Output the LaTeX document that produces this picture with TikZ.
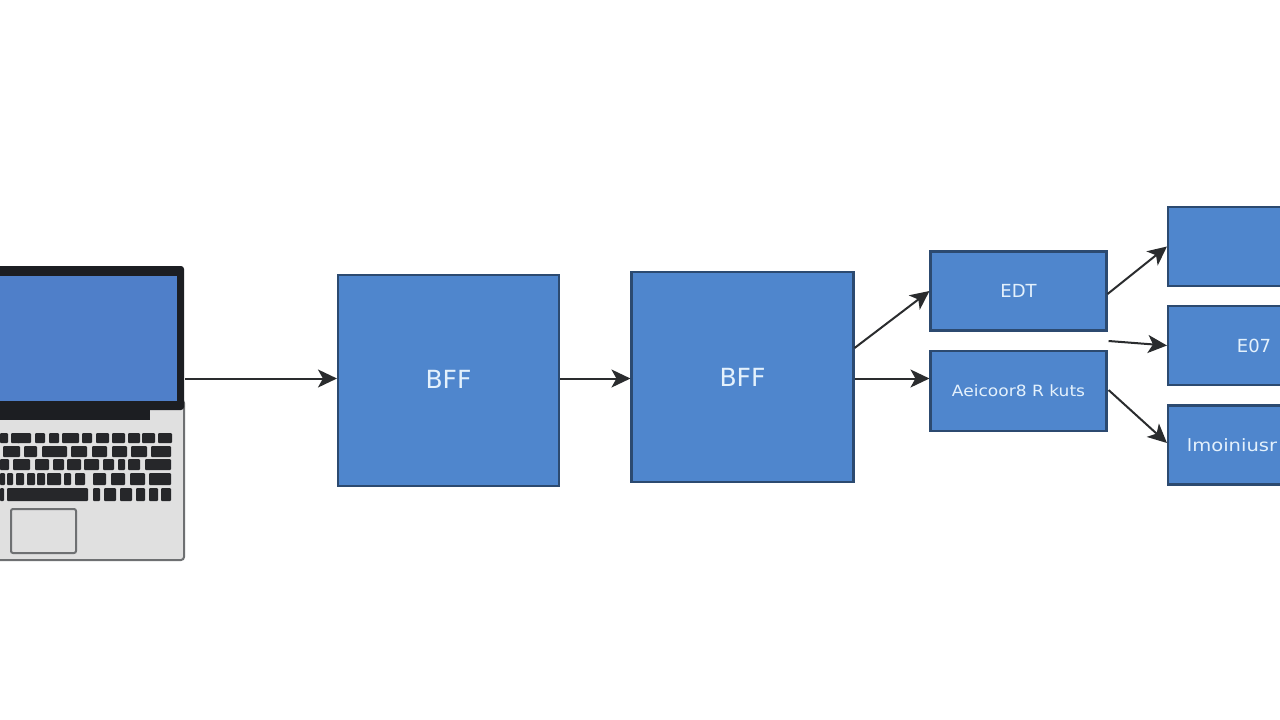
\documentclass[tikz,border=0pt]{standalone}
\usepackage{fontspec}
\setmainfont{DejaVu Sans}
\usetikzlibrary{arrows.meta}
\definecolor{boxfill}{HTML}{4F86CD}
\definecolor{boxline}{HTML}{2C4A70}
\definecolor{screenblue}{HTML}{4F7FC9}
\definecolor{labeltext}{HTML}{E4F1FC}
\definecolor{lidblack}{HTML}{1C1E22}
\definecolor{bodysilver}{HTML}{E0E0E0}
\definecolor{bodyline}{HTML}{6E7072}
\definecolor{keyblack}{HTML}{26272A}
\definecolor{arrowline}{HTML}{2A2C2E}
\tikzset{
  bluebox/.style={draw=boxline,line width=2.1pt,fill=boxfill,text=labeltext,inner sep=0pt,align=center},
  flow/.style={draw=arrowline,line width=2pt,-{Stealth[length=19pt,width=18pt,inset=5pt]}},
  keycap/.style={fill=keyblack,draw=none,rounded corners=1pt},
}
\begin{document}
\begin{tikzpicture}[x=1pt,y=-1pt]
\useasboundingbox (0,0) rectangle (1280,720);
\clip (0,0) rectangle (1280,720);
\fill[white] (0,0) rectangle (1280,720);
% laptop
\draw[draw=bodyline,line width=2pt,fill=bodysilver,rounded corners=3pt] (-10,400) rectangle (184,560);
\fill[lidblack,rounded corners=3pt] (-10,266) rectangle (184,410);
\fill[lidblack] (-10,405) rectangle (150,420);
\fill[screenblue] (-10,276) rectangle (177,401);
% keyboard
\foreach \y/\h/\xs in {
 433/10/{0/8,11/20,17/31,35/45,49/59,62/79,82/92,96/109,112/125,128/140,142/155,158/172},
 446/11/{3/20,24/37,42/67,71/87,92/107,112/127,131/147,151/171},
 459/11/{0/9,13/30,35/49,53/64,67/81,84/99,103/114,118/125,128/140,145/171},
 473/12/{0/5,7/13,16/24,27/35,37/45,47/61,64/71,75/85,93/106,111/125,130/145,149/171},
 488/13/{0/4,7/88,93/100,104/116,120/132,136/145,149/158,161/171}}{
  \foreach \a/\b in \xs { \fill[keycap] (\a,\y) rectangle (\b,\y+\h); }
}
\draw[draw=bodyline,line width=2pt,fill=bodysilver,rounded corners=2pt] (11,509) rectangle (76,553);
\coordinate (laptopport) at (185,378.5);
% boxes
\node[bluebox,minimum width=221pt,minimum height=211pt,font=\fontsize{25}{28}\selectfont] (bffa) at (448.5,380.5) {\raisebox{2pt}{BFF}};
\node[bluebox,minimum width=222pt,minimum height=210pt,font=\fontsize{25}{28}\selectfont] (bffb) at (742.5,377) {BFF};
\node[bluebox,minimum width=176pt,minimum height=79pt,font=\fontsize{18}{20}\selectfont] (edta) at (1018.5,291) {EDT};
\node[bluebox,minimum width=176pt,minimum height=80pt,font=\fontsize{15.5}{18}\selectfont] (acic) at (1018.5,391) {\scalebox{1.1}[1]{Aeicoor8 R kuts}};
\node[bluebox,minimum width=172pt,minimum height=79pt] (topr) at (1254,246.5) {};
\node[bluebox,minimum width=172pt,minimum height=79pt,font=\fontsize{18}{20}\selectfont] (edtb) at (1254,345.5) {E07};
\node[bluebox,minimum width=128pt,minimum height=79pt,font=\fontsize{17}{20}\selectfont] (lmoi) at (1232,445) {\scalebox{1.15}[1]{lmoiniusr}};
% connectors
\draw[flow] (laptopport) -- (bffa.west |- laptopport);
\draw[flow] (bffa.east |- laptopport) -- (bffb.west |- laptopport);
\draw[flow] ([yshift=29pt]bffb.east) -- (edta.west);
\draw[flow] (bffb.east |- laptopport) -- (acic.west |- laptopport);
\draw[flow] ([yshift=-3pt]edta.east) -- (topr.west);
\draw[flow] ([xshift=1pt,yshift=-50pt]edta.east) -- (edtb.west);
\draw[flow] ([xshift=1pt,yshift=1pt]acic.east) -- ([yshift=2pt]lmoi.west);
\end{tikzpicture}
\end{document}
